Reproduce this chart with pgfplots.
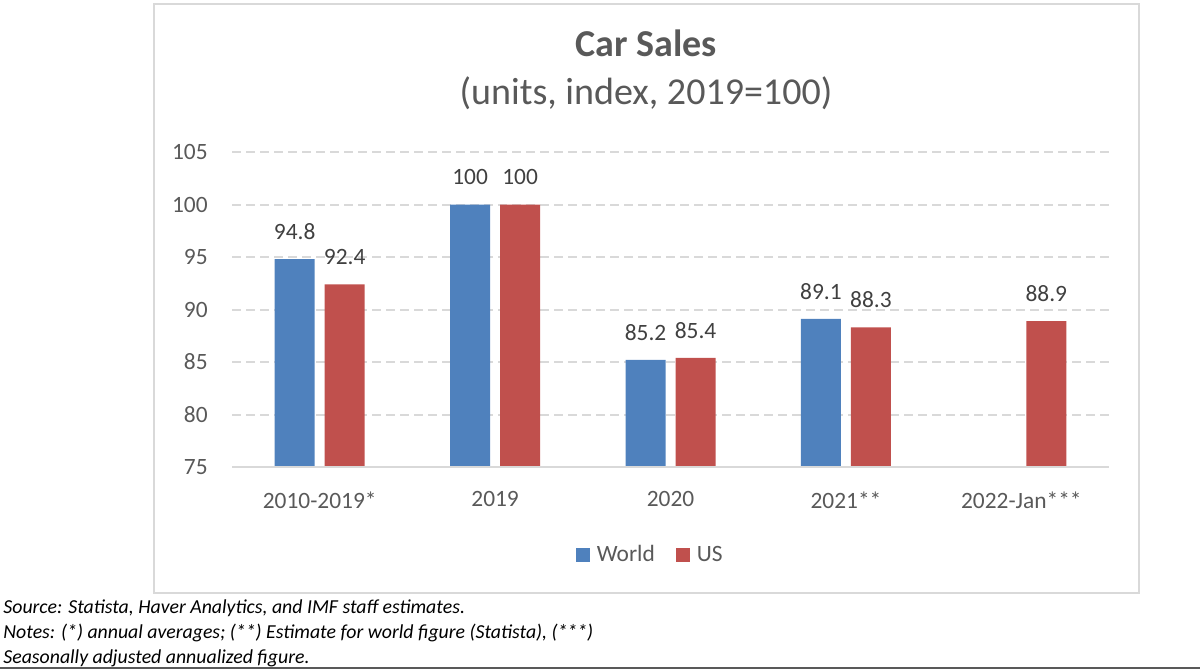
\documentclass[border=0pt]{standalone}
\usepackage{fontspec}
\setmainfont{Carlito}
\usepackage{pgfplots}
\pgfplotsset{compat=1.18}
\pgfplotsset{/pgf/number format/assume math mode=true}

\definecolor{worldblue}{HTML}{4F81BD}
\definecolor{usred}{HTML}{C0504D}
\definecolor{gridgray}{HTML}{D9D9D9}
\definecolor{txtgray}{HTML}{595959}
\definecolor{lblgray}{HTML}{404040}

\newcommand{\tickfont}{\fontsize{11.7bp}{14bp}\selectfont}

\begin{document}
\begin{tikzpicture}
% everything outside the axis is laid out in reference pixels (y down)
\begin{scope}[x=0.5bp,y=-0.5bp]
\useasboundingbox (0,0) rectangle (1200,670);
\draw[gridgray, line width=1bp] (154,4) rectangle (1139,593);
\draw[black!65, line width=1bp] (0,668) -- (1200,668);
\node[font=\fontsize{19bp}{23bp}\selectfont\bfseries, text=txtgray, anchor=base, inner sep=0pt] at (646,57) {Car Sales};
\node[font=\fontsize{19bp}{23bp}\selectfont, text=txtgray, anchor=base, inner sep=0pt] at (646,105) {(units, index, 2019=100)};
\end{scope}

\begin{axis}[
    at={(116bp,-233.5bp)}, anchor=south west,
    scale only axis,
    width=438.5bp, height=157.5bp,
    xmin=-0.5, xmax=4.5,
    ymin=75, ymax=105,
    ytick={75,80,...,105},
    xtick={0,1,2,3,4},
    xticklabels={2010-2019*,2019,2020,2021**,2022-Jan***},
    axis line style={draw=none},
    major tick length=0pt,
    ymajorgrids,
    grid style={gridgray, dash pattern=on 4.5bp off 2.5bp, line width=1bp},
    tick label style={font=\tickfont, text=txtgray},
    yticklabel style={inner sep=0pt, anchor=east, xshift=-12bp},
    xticklabel style={inner sep=0pt, anchor=north, yshift=-12bp},
    ybar,
    bar width=0.228,
    nodes near coords,
    every node near coord/.append style={font=\tickfont, text=lblgray, inner sep=0pt, anchor=south, yshift=9.5bp},
    legend columns=2,
    legend style={at={(0.478,-0.279)}, anchor=center, draw=none, fill=none,
        font=\tickfont, text=txtgray,
        /tikz/every odd column/.append style={column sep=1.5bp},
        /tikz/every even column/.append style={column sep=8.5bp}},
    legend image code/.code={\fill[#1, draw=none] (0bp,-3.5bp) rectangle (7bp,3.5bp);},
]
% World
\addplot[fill=worldblue, draw=none, bar shift=-0.1425] coordinates {
    (0, 94.8) (1, 100) (2, 85.2) (3, 89.1)
};
% US
\addplot[fill=usred, draw=none, bar shift=0.1425] coordinates {
    (0, 92.4) (1, 100) (2, 85.4) (3, 88.3) (4, 88.9)
};
\legend{World, US}
\end{axis}

\begin{scope}[x=0.5bp,y=-0.5bp]
% category axis line
\draw[gridgray, line width=1.25bp] (232,467) -- (1109,467);
% notes
\begin{scope}[every node/.style={anchor=base west, inner sep=0pt, font=\fontsize{9.9bp}{12bp}\selectfont\itshape}]
\node at (3,613) {Source: Statista, Haver Analytics, and IMF staff estimates.};
\node at (3,638) {Notes: (*) annual averages; (**) Estimate for world figure (Statista), (***)};
\node at (3,663) {Seasonally adjusted annualized figure.};
\end{scope}
\end{scope}
\end{tikzpicture}
\end{document}
